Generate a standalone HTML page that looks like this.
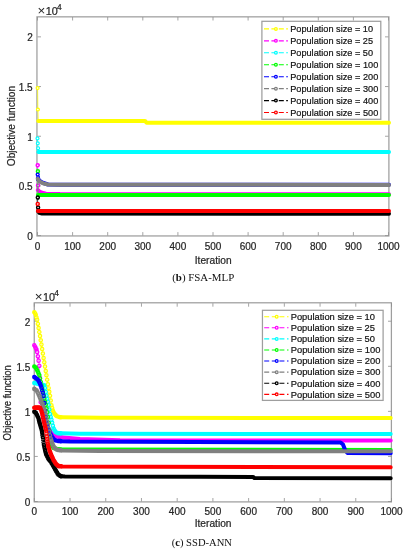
<!DOCTYPE html><html><head><meta charset="utf-8"><style>html,body{margin:0;padding:0;background:#fff;}svg{display:block;}</style></head><body>
<svg width="406" height="550" viewBox="0 0 406 550">
<rect width="406" height="550" fill="#fff"/>
<rect x="36.95" y="16.85" width="351.95" height="219.1" fill="none" stroke="#9e9e9e" stroke-width="1.25"/>
<path d="M37.5 235.6V232.1M37.5 17V20.5M72.6 235.6V232.1M72.6 17V20.5M107.7 235.6V232.1M107.7 17V20.5M142.8 235.6V232.1M142.8 17V20.5M177.9 235.6V232.1M177.9 17V20.5M213 235.6V232.1M213 17V20.5M248.1 235.6V232.1M248.1 17V20.5M283.2 235.6V232.1M283.2 17V20.5M318.3 235.6V232.1M318.3 17V20.5M353.4 235.6V232.1M353.4 17V20.5M388.5 235.6V232.1M388.5 17V20.5M37.5 235.6H41M388.5 235.6H385M37.5 185.92H41M388.5 185.92H385M37.5 136.24H41M388.5 136.24H385M37.5 86.55H41M388.5 86.55H385M37.5 36.87H41M388.5 36.87H385" stroke="#8e8e8e" stroke-width="0.8" fill="none"/>
<polyline points="37.6,88 37.9,109.5 38.3,119.5" fill="none" stroke="#ffff00" stroke-width="0.7"/>
<path d="M36.15 88a1.45 1.45 0 1 0 2.9 0a1.45 1.45 0 1 0 -2.9 0M36.45 109.5a1.45 1.45 0 1 0 2.9 0a1.45 1.45 0 1 0 -2.9 0" fill="#fff" stroke="#ffff00" stroke-width="1.2"/>
<polyline points="38.2,120.9 145,120.9 146.6,122.8 389,122.8" fill="none" stroke="#ffff00" stroke-width="4" stroke-linejoin="round" stroke-linecap="round"/>
<polyline points="37.6,165.2 38.2,185.5 38.3,189.5" fill="none" stroke="#ff00ff" stroke-width="0.7"/>
<path d="M36.2 165.2a1.5 1.5 0 1 0 3 0a1.5 1.5 0 1 0 -3 0M36.5 185.6a1.5 1.5 0 1 0 3 0a1.5 1.5 0 1 0 -3 0" fill="#fff" stroke="#ff00ff" stroke-width="1.5"/>
<polyline points="37.9,190 39.5,191.6 42,192.8 46,193.7 60,194.1 389,194.3" fill="none" stroke="#ff00ff" stroke-width="4" stroke-linejoin="round" stroke-linecap="round"/>
<polyline points="37.4,138.2 37.8,143.3 38.1,148.4 38.4,151.5" fill="none" stroke="#00ffff" stroke-width="0.7"/>
<path d="M36.05 138.4a1.45 1.45 0 1 0 2.9 0a1.45 1.45 0 1 0 -2.9 0M36.35 143.3a1.45 1.45 0 1 0 2.9 0a1.45 1.45 0 1 0 -2.9 0M36.65 148.2a1.45 1.45 0 1 0 2.9 0a1.45 1.45 0 1 0 -2.9 0" fill="#fff" stroke="#00ffff" stroke-width="1.2"/>
<polyline points="38.3,152 389,152" fill="none" stroke="#00ffff" stroke-width="4" stroke-linejoin="round" stroke-linecap="round"/>
<polyline points="37.8,171.3 37.9,190 38,194" fill="none" stroke="#00ff00" stroke-width="0.7"/>
<path d="M36.4 171.3a1.5 1.5 0 1 0 3 0a1.5 1.5 0 1 0 -3 0" fill="#fff" stroke="#00ff00" stroke-width="1.5"/>
<polyline points="38,194.9 389,194.9" fill="none" stroke="#00ff00" stroke-width="4" stroke-linejoin="round" stroke-linecap="round"/>
<polyline points="37.6,174.5 38,177.5 38.5,179.6" fill="none" stroke="#0000ff" stroke-width="0.7"/>
<path d="M36.25 174.6a1.45 1.45 0 1 0 2.9 0a1.45 1.45 0 1 0 -2.9 0M36.55 177.3a1.45 1.45 0 1 0 2.9 0a1.45 1.45 0 1 0 -2.9 0M36.85 179.3a1.45 1.45 0 1 0 2.9 0a1.45 1.45 0 1 0 -2.9 0" fill="#fff" stroke="#0000ff" stroke-width="1.4"/>
<polyline points="38.5,179.8 40.5,181.4 43.5,183 48,184.5 60,184.8 389,184.85" fill="none" stroke="#0000ff" stroke-width="4" stroke-linejoin="round" stroke-linecap="round"/>
<polyline points="37.8,178.8 39,180.9 41,182.3 44,183.6 48,184.5 60,184.8 389,184.9" fill="none" stroke="#808080" stroke-width="4" stroke-linejoin="round" stroke-linecap="round"/>
<polyline points="37.7,197.6 37.6,203.9 38,207.5 38.2,211" fill="none" stroke="#000000" stroke-width="0.7"/>
<path d="M36.3 197.6a1.5 1.5 0 1 0 3 0a1.5 1.5 0 1 0 -3 0M36.6 207.4a1.5 1.5 0 1 0 3 0a1.5 1.5 0 1 0 -3 0" fill="#fff" stroke="#000000" stroke-width="1.5"/>
<polyline points="38,211 39.5,212.9 42,213.6 389,213.7" fill="none" stroke="#000000" stroke-width="4" stroke-linejoin="round" stroke-linecap="round"/>
<path d="M36.2 203.9a1.5 1.5 0 1 0 3 0a1.5 1.5 0 1 0 -3 0" fill="#fff" stroke="#ff0000" stroke-width="1.5"/>
<polyline points="37.9,211 389,211" fill="none" stroke="#ff0000" stroke-width="4" stroke-linejoin="round" stroke-linecap="round"/>
<g font-family="Liberation Sans, Arial, sans-serif" font-size="10" fill="#262626" stroke="#262626" stroke-width="0.22">
<text x="37.5" y="250.3" text-anchor="middle">0</text>
<text x="72.6" y="250.3" text-anchor="middle">100</text>
<text x="107.7" y="250.3" text-anchor="middle">200</text>
<text x="142.8" y="250.3" text-anchor="middle">300</text>
<text x="177.9" y="250.3" text-anchor="middle">400</text>
<text x="213" y="250.3" text-anchor="middle">500</text>
<text x="248.1" y="250.3" text-anchor="middle">600</text>
<text x="283.2" y="250.3" text-anchor="middle">700</text>
<text x="318.3" y="250.3" text-anchor="middle">800</text>
<text x="353.4" y="250.3" text-anchor="middle">900</text>
<text x="388.5" y="250.3" text-anchor="middle">1000</text>
<text x="32.7" y="239.9" text-anchor="end">0</text>
<text x="32.7" y="190.22" text-anchor="end">0.5</text>
<text x="32.7" y="140.54" text-anchor="end">1</text>
<text x="32.7" y="90.85" text-anchor="end">1.5</text>
<text x="32.7" y="41.17" text-anchor="end">2</text>
<text x="213.2" y="263.6" text-anchor="middle" font-size="10.2">Iteration</text>
<text transform="translate(15 126.1) rotate(-90)" text-anchor="middle" font-size="10.1">Objective function</text>
<text x="37.6" y="15.2" font-size="13.4" stroke="none">&#215;</text>
<text x="45.8" y="14.8" font-size="10.8">10</text>
<text x="57.1" y="10.1" font-size="8.4">4</text>
</g>
<rect x="261.9" y="21.3" width="118.9" height="98" fill="#fff" stroke="#9e9e9e" stroke-width="1.25"/>
<path d="M264 28.9H287.9" stroke="#ffff00" stroke-width="1.1" stroke-dasharray="5 2.4" fill="none"/>
<circle cx="275.9" cy="28.9" r="1.35" fill="#fff" stroke="#ffff00" stroke-width="1.3"/>
<path d="M264 40.85H287.9" stroke="#ff00ff" stroke-width="1.1" stroke-dasharray="5 2.4" fill="none"/>
<circle cx="275.9" cy="40.85" r="1.35" fill="#fff" stroke="#ff00ff" stroke-width="1.3"/>
<path d="M264 52.8H287.9" stroke="#00ffff" stroke-width="1.1" stroke-dasharray="5 2.4" fill="none"/>
<circle cx="275.9" cy="52.8" r="1.35" fill="#fff" stroke="#00ffff" stroke-width="1.3"/>
<path d="M264 64.75H287.9" stroke="#00ff00" stroke-width="1.1" stroke-dasharray="5 2.4" fill="none"/>
<circle cx="275.9" cy="64.75" r="1.35" fill="#fff" stroke="#00ff00" stroke-width="1.3"/>
<path d="M264 76.7H287.9" stroke="#0000ff" stroke-width="1.1" stroke-dasharray="5 2.4" fill="none"/>
<circle cx="275.9" cy="76.7" r="1.35" fill="#fff" stroke="#0000ff" stroke-width="1.3"/>
<path d="M264 88.65H287.9" stroke="#808080" stroke-width="1.1" stroke-dasharray="5 2.4" fill="none"/>
<circle cx="275.9" cy="88.65" r="1.35" fill="#fff" stroke="#808080" stroke-width="1.3"/>
<path d="M264 100.6H287.9" stroke="#000000" stroke-width="1.1" stroke-dasharray="5 2.4" fill="none"/>
<circle cx="275.9" cy="100.6" r="1.35" fill="#fff" stroke="#000000" stroke-width="1.3"/>
<path d="M264 112.55H287.9" stroke="#ff0000" stroke-width="1.1" stroke-dasharray="5 2.4" fill="none"/>
<circle cx="275.9" cy="112.55" r="1.35" fill="#fff" stroke="#ff0000" stroke-width="1.3"/>
<g font-family="Liberation Sans, Arial, sans-serif" font-size="9.8" fill="#111" stroke="#111" stroke-width="0.2">
<text x="290.2" y="32.2" textLength="82.9" lengthAdjust="spacingAndGlyphs">Population size = 10</text>
<text x="290.2" y="44.15" textLength="82.9" lengthAdjust="spacingAndGlyphs">Population size = 25</text>
<text x="290.2" y="56.1" textLength="82.9" lengthAdjust="spacingAndGlyphs">Population size = 50</text>
<text x="290.2" y="68.05" textLength="88.1" lengthAdjust="spacingAndGlyphs">Population size = 100</text>
<text x="290.2" y="80" textLength="88.1" lengthAdjust="spacingAndGlyphs">Population size = 200</text>
<text x="290.2" y="91.95" textLength="88.1" lengthAdjust="spacingAndGlyphs">Population size = 300</text>
<text x="290.2" y="103.9" textLength="88.1" lengthAdjust="spacingAndGlyphs">Population size = 400</text>
<text x="290.2" y="115.85" textLength="88.1" lengthAdjust="spacingAndGlyphs">Population size = 500</text>
</g>
<text x="172.2" y="281.4" textLength="62" lengthAdjust="spacingAndGlyphs" font-family="Liberation Serif, serif" font-size="11" fill="#111">(<tspan font-weight="bold">b</tspan>) FSA-MLP</text>
<rect x="34.25" y="302.8" width="357.15" height="199.1" fill="none" stroke="#9e9e9e" stroke-width="1.25"/>
<path d="M34.3 501.5V498M34.3 303.2V306.7M70.02 501.5V498M70.02 303.2V306.7M105.74 501.5V498M105.74 303.2V306.7M141.46 501.5V498M141.46 303.2V306.7M177.18 501.5V498M177.18 303.2V306.7M212.9 501.5V498M212.9 303.2V306.7M248.62 501.5V498M248.62 303.2V306.7M284.34 501.5V498M284.34 303.2V306.7M320.06 501.5V498M320.06 303.2V306.7M355.78 501.5V498M355.78 303.2V306.7M391.5 501.5V498M391.5 303.2V306.7M34.3 501.5H37.8M391.5 501.5H388M34.3 456.43H37.8M391.5 456.43H388M34.3 411.36H37.8M391.5 411.36H388M34.3 366.3H37.8M391.5 366.3H388M34.3 321.23H37.8M391.5 321.23H388" stroke="#8e8e8e" stroke-width="0.8" fill="none"/>
<polyline points="34.3,312.2 35.01,313.21 35.73,314.81 36.44,317.33 37.16,319.85 37.87,323.84 38.59,327.92 39.3,332 40.02,336.09 40.73,340.18 41.44,344.62 42.16,349.05 42.87,353.49 43.59,357.92 44.3,362.26 45.02,366.6 45.73,370.93 46.44,375.28 47.16,379.75 47.87,384.21 48.59,388.09 49.3,391.85 50.02,395.78 50.73,400.54 51.45,405.18 52.16,408.04 52.87,410.47 53.59,412.2 54.3,413.54 55.02,414.34 55.73,415.14 56.45,415.94 57.16,416.23 57.88,416.47 58.59,416.72 59.3,416.96 60.02,417.2 60.73,417.21" fill="none" stroke="#ffff00" stroke-width="0.5"/>
<path d="M32.65 312.2a1.65 1.65 0 1 0 3.3 0a1.65 1.65 0 1 0 -3.3 0M33.36 313.21a1.65 1.65 0 1 0 3.3 0a1.65 1.65 0 1 0 -3.3 0M34.08 314.81a1.65 1.65 0 1 0 3.3 0a1.65 1.65 0 1 0 -3.3 0M34.79 317.33a1.65 1.65 0 1 0 3.3 0a1.65 1.65 0 1 0 -3.3 0M35.51 319.85a1.65 1.65 0 1 0 3.3 0a1.65 1.65 0 1 0 -3.3 0M36.22 323.84a1.65 1.65 0 1 0 3.3 0a1.65 1.65 0 1 0 -3.3 0M36.94 327.92a1.65 1.65 0 1 0 3.3 0a1.65 1.65 0 1 0 -3.3 0M37.65 332a1.65 1.65 0 1 0 3.3 0a1.65 1.65 0 1 0 -3.3 0M38.37 336.09a1.65 1.65 0 1 0 3.3 0a1.65 1.65 0 1 0 -3.3 0M39.08 340.18a1.65 1.65 0 1 0 3.3 0a1.65 1.65 0 1 0 -3.3 0M39.79 344.62a1.65 1.65 0 1 0 3.3 0a1.65 1.65 0 1 0 -3.3 0M40.51 349.05a1.65 1.65 0 1 0 3.3 0a1.65 1.65 0 1 0 -3.3 0M41.22 353.49a1.65 1.65 0 1 0 3.3 0a1.65 1.65 0 1 0 -3.3 0M41.94 357.92a1.65 1.65 0 1 0 3.3 0a1.65 1.65 0 1 0 -3.3 0M42.65 362.26a1.65 1.65 0 1 0 3.3 0a1.65 1.65 0 1 0 -3.3 0M43.37 366.6a1.65 1.65 0 1 0 3.3 0a1.65 1.65 0 1 0 -3.3 0M44.08 370.93a1.65 1.65 0 1 0 3.3 0a1.65 1.65 0 1 0 -3.3 0M44.79 375.28a1.65 1.65 0 1 0 3.3 0a1.65 1.65 0 1 0 -3.3 0M45.51 379.75a1.65 1.65 0 1 0 3.3 0a1.65 1.65 0 1 0 -3.3 0M46.22 384.21a1.65 1.65 0 1 0 3.3 0a1.65 1.65 0 1 0 -3.3 0M46.94 388.09a1.65 1.65 0 1 0 3.3 0a1.65 1.65 0 1 0 -3.3 0M47.65 391.85a1.65 1.65 0 1 0 3.3 0a1.65 1.65 0 1 0 -3.3 0M48.37 395.78a1.65 1.65 0 1 0 3.3 0a1.65 1.65 0 1 0 -3.3 0M49.08 400.54a1.65 1.65 0 1 0 3.3 0a1.65 1.65 0 1 0 -3.3 0M49.8 405.18a1.65 1.65 0 1 0 3.3 0a1.65 1.65 0 1 0 -3.3 0M50.51 408.04a1.65 1.65 0 1 0 3.3 0a1.65 1.65 0 1 0 -3.3 0M51.22 410.47a1.65 1.65 0 1 0 3.3 0a1.65 1.65 0 1 0 -3.3 0M51.94 412.2a1.65 1.65 0 1 0 3.3 0a1.65 1.65 0 1 0 -3.3 0M52.65 413.54a1.65 1.65 0 1 0 3.3 0a1.65 1.65 0 1 0 -3.3 0M53.37 414.34a1.65 1.65 0 1 0 3.3 0a1.65 1.65 0 1 0 -3.3 0M54.08 415.14a1.65 1.65 0 1 0 3.3 0a1.65 1.65 0 1 0 -3.3 0M54.8 415.94a1.65 1.65 0 1 0 3.3 0a1.65 1.65 0 1 0 -3.3 0M55.51 416.23a1.65 1.65 0 1 0 3.3 0a1.65 1.65 0 1 0 -3.3 0M56.23 416.47a1.65 1.65 0 1 0 3.3 0a1.65 1.65 0 1 0 -3.3 0M56.94 416.72a1.65 1.65 0 1 0 3.3 0a1.65 1.65 0 1 0 -3.3 0M57.65 416.96a1.65 1.65 0 1 0 3.3 0a1.65 1.65 0 1 0 -3.3 0M58.37 417.2a1.65 1.65 0 1 0 3.3 0a1.65 1.65 0 1 0 -3.3 0M59.08 417.21a1.65 1.65 0 1 0 3.3 0a1.65 1.65 0 1 0 -3.3 0" fill="none" stroke="#ffff00" stroke-width="1.25"/>
<polyline points="61.09,417.22 100,417.8 390.7,418" fill="none" stroke="#ffff00" stroke-width="4" stroke-linejoin="round" stroke-linecap="round"/>
<polyline points="34.3,345.26 35.01,346.53 35.73,347.92 36.44,349.31 37.16,352.1 37.87,356.31 38.59,360.63 39.3,365.82 40.02,378.08 40.73,402.18 41.44,408.41 42.16,412.19 42.87,414.99 43.59,416.9 44.3,418.8 45.02,420.71 45.73,422.55 46.44,424.27 47.16,425.98 47.87,427.7 48.59,428.94 49.3,430.08 50.02,431.23 50.73,432.24 51.45,432.98 52.16,433.73 52.87,434.47 53.59,434.84 54.3,435.12 55.02,435.41 55.73,435.69 56.45,435.98 57.16,436.24 57.88,436.44 58.59,436.64 59.3,436.83 60.02,437.03 60.73,437.23" fill="none" stroke="#ff00ff" stroke-width="0.5"/>
<path d="M32.65 345.26a1.65 1.65 0 1 0 3.3 0a1.65 1.65 0 1 0 -3.3 0M33.36 346.53a1.65 1.65 0 1 0 3.3 0a1.65 1.65 0 1 0 -3.3 0M34.08 347.92a1.65 1.65 0 1 0 3.3 0a1.65 1.65 0 1 0 -3.3 0M34.79 349.31a1.65 1.65 0 1 0 3.3 0a1.65 1.65 0 1 0 -3.3 0M35.51 352.1a1.65 1.65 0 1 0 3.3 0a1.65 1.65 0 1 0 -3.3 0M36.22 356.31a1.65 1.65 0 1 0 3.3 0a1.65 1.65 0 1 0 -3.3 0M36.94 360.63a1.65 1.65 0 1 0 3.3 0a1.65 1.65 0 1 0 -3.3 0M37.65 365.82a1.65 1.65 0 1 0 3.3 0a1.65 1.65 0 1 0 -3.3 0M38.37 378.08a1.65 1.65 0 1 0 3.3 0a1.65 1.65 0 1 0 -3.3 0M39.08 402.18a1.65 1.65 0 1 0 3.3 0a1.65 1.65 0 1 0 -3.3 0M39.79 408.41a1.65 1.65 0 1 0 3.3 0a1.65 1.65 0 1 0 -3.3 0M40.51 412.19a1.65 1.65 0 1 0 3.3 0a1.65 1.65 0 1 0 -3.3 0M41.22 414.99a1.65 1.65 0 1 0 3.3 0a1.65 1.65 0 1 0 -3.3 0M41.94 416.9a1.65 1.65 0 1 0 3.3 0a1.65 1.65 0 1 0 -3.3 0M42.65 418.8a1.65 1.65 0 1 0 3.3 0a1.65 1.65 0 1 0 -3.3 0M43.37 420.71a1.65 1.65 0 1 0 3.3 0a1.65 1.65 0 1 0 -3.3 0M44.08 422.55a1.65 1.65 0 1 0 3.3 0a1.65 1.65 0 1 0 -3.3 0M44.79 424.27a1.65 1.65 0 1 0 3.3 0a1.65 1.65 0 1 0 -3.3 0M45.51 425.98a1.65 1.65 0 1 0 3.3 0a1.65 1.65 0 1 0 -3.3 0M46.22 427.7a1.65 1.65 0 1 0 3.3 0a1.65 1.65 0 1 0 -3.3 0M46.94 428.94a1.65 1.65 0 1 0 3.3 0a1.65 1.65 0 1 0 -3.3 0M47.65 430.08a1.65 1.65 0 1 0 3.3 0a1.65 1.65 0 1 0 -3.3 0M48.37 431.23a1.65 1.65 0 1 0 3.3 0a1.65 1.65 0 1 0 -3.3 0M49.08 432.24a1.65 1.65 0 1 0 3.3 0a1.65 1.65 0 1 0 -3.3 0M49.8 432.98a1.65 1.65 0 1 0 3.3 0a1.65 1.65 0 1 0 -3.3 0M50.51 433.73a1.65 1.65 0 1 0 3.3 0a1.65 1.65 0 1 0 -3.3 0M51.22 434.47a1.65 1.65 0 1 0 3.3 0a1.65 1.65 0 1 0 -3.3 0M51.94 434.84a1.65 1.65 0 1 0 3.3 0a1.65 1.65 0 1 0 -3.3 0M52.65 435.12a1.65 1.65 0 1 0 3.3 0a1.65 1.65 0 1 0 -3.3 0M53.37 435.41a1.65 1.65 0 1 0 3.3 0a1.65 1.65 0 1 0 -3.3 0M54.08 435.69a1.65 1.65 0 1 0 3.3 0a1.65 1.65 0 1 0 -3.3 0M54.8 435.98a1.65 1.65 0 1 0 3.3 0a1.65 1.65 0 1 0 -3.3 0M55.51 436.24a1.65 1.65 0 1 0 3.3 0a1.65 1.65 0 1 0 -3.3 0M56.23 436.44a1.65 1.65 0 1 0 3.3 0a1.65 1.65 0 1 0 -3.3 0M56.94 436.64a1.65 1.65 0 1 0 3.3 0a1.65 1.65 0 1 0 -3.3 0M57.65 436.83a1.65 1.65 0 1 0 3.3 0a1.65 1.65 0 1 0 -3.3 0M58.37 437.03a1.65 1.65 0 1 0 3.3 0a1.65 1.65 0 1 0 -3.3 0M59.08 437.23a1.65 1.65 0 1 0 3.3 0a1.65 1.65 0 1 0 -3.3 0" fill="none" stroke="#ff00ff" stroke-width="1.25"/>
<polyline points="61.09,437.31 80,439 120,440.2 200,440.5 390.7,440.6" fill="none" stroke="#ff00ff" stroke-width="4" stroke-linejoin="round" stroke-linecap="round"/>
<polyline points="34.3,382.9 35.01,383.02 35.73,383.19 36.44,383.37 37.16,383.53 37.87,383.65 38.59,383.78 39.3,383.9 40.02,384.03 40.73,384.15 41.44,384.34 42.16,384.56 42.87,384.79 43.59,385.01 44.3,385.24 45.02,388.08 45.73,391.93 46.44,395.63 47.16,398.74 47.87,401.84 48.59,404.95 49.3,409.52 50.02,414.07 50.73,416.92 51.45,419.78 52.16,422.67 52.87,425.67 53.59,428.46 54.3,429.79 55.02,431.11 55.73,432.12 56.45,432.49 57.16,432.86 57.88,433.24 58.59,433.31 59.3,433.33 60.02,433.35 60.73,433.36" fill="none" stroke="#00ffff" stroke-width="0.5"/>
<path d="M32.65 382.9a1.65 1.65 0 1 0 3.3 0a1.65 1.65 0 1 0 -3.3 0M33.36 383.02a1.65 1.65 0 1 0 3.3 0a1.65 1.65 0 1 0 -3.3 0M34.08 383.19a1.65 1.65 0 1 0 3.3 0a1.65 1.65 0 1 0 -3.3 0M34.79 383.37a1.65 1.65 0 1 0 3.3 0a1.65 1.65 0 1 0 -3.3 0M35.51 383.53a1.65 1.65 0 1 0 3.3 0a1.65 1.65 0 1 0 -3.3 0M36.22 383.65a1.65 1.65 0 1 0 3.3 0a1.65 1.65 0 1 0 -3.3 0M36.94 383.78a1.65 1.65 0 1 0 3.3 0a1.65 1.65 0 1 0 -3.3 0M37.65 383.9a1.65 1.65 0 1 0 3.3 0a1.65 1.65 0 1 0 -3.3 0M38.37 384.03a1.65 1.65 0 1 0 3.3 0a1.65 1.65 0 1 0 -3.3 0M39.08 384.15a1.65 1.65 0 1 0 3.3 0a1.65 1.65 0 1 0 -3.3 0M39.79 384.34a1.65 1.65 0 1 0 3.3 0a1.65 1.65 0 1 0 -3.3 0M40.51 384.56a1.65 1.65 0 1 0 3.3 0a1.65 1.65 0 1 0 -3.3 0M41.22 384.79a1.65 1.65 0 1 0 3.3 0a1.65 1.65 0 1 0 -3.3 0M41.94 385.01a1.65 1.65 0 1 0 3.3 0a1.65 1.65 0 1 0 -3.3 0M42.65 385.24a1.65 1.65 0 1 0 3.3 0a1.65 1.65 0 1 0 -3.3 0M43.37 388.08a1.65 1.65 0 1 0 3.3 0a1.65 1.65 0 1 0 -3.3 0M44.08 391.93a1.65 1.65 0 1 0 3.3 0a1.65 1.65 0 1 0 -3.3 0M44.79 395.63a1.65 1.65 0 1 0 3.3 0a1.65 1.65 0 1 0 -3.3 0M45.51 398.74a1.65 1.65 0 1 0 3.3 0a1.65 1.65 0 1 0 -3.3 0M46.22 401.84a1.65 1.65 0 1 0 3.3 0a1.65 1.65 0 1 0 -3.3 0M46.94 404.95a1.65 1.65 0 1 0 3.3 0a1.65 1.65 0 1 0 -3.3 0M47.65 409.52a1.65 1.65 0 1 0 3.3 0a1.65 1.65 0 1 0 -3.3 0M48.37 414.07a1.65 1.65 0 1 0 3.3 0a1.65 1.65 0 1 0 -3.3 0M49.08 416.92a1.65 1.65 0 1 0 3.3 0a1.65 1.65 0 1 0 -3.3 0M49.8 419.78a1.65 1.65 0 1 0 3.3 0a1.65 1.65 0 1 0 -3.3 0M50.51 422.67a1.65 1.65 0 1 0 3.3 0a1.65 1.65 0 1 0 -3.3 0M51.22 425.67a1.65 1.65 0 1 0 3.3 0a1.65 1.65 0 1 0 -3.3 0M51.94 428.46a1.65 1.65 0 1 0 3.3 0a1.65 1.65 0 1 0 -3.3 0M52.65 429.79a1.65 1.65 0 1 0 3.3 0a1.65 1.65 0 1 0 -3.3 0M53.37 431.11a1.65 1.65 0 1 0 3.3 0a1.65 1.65 0 1 0 -3.3 0M54.08 432.12a1.65 1.65 0 1 0 3.3 0a1.65 1.65 0 1 0 -3.3 0M54.8 432.49a1.65 1.65 0 1 0 3.3 0a1.65 1.65 0 1 0 -3.3 0M55.51 432.86a1.65 1.65 0 1 0 3.3 0a1.65 1.65 0 1 0 -3.3 0M56.23 433.24a1.65 1.65 0 1 0 3.3 0a1.65 1.65 0 1 0 -3.3 0M56.94 433.31a1.65 1.65 0 1 0 3.3 0a1.65 1.65 0 1 0 -3.3 0M57.65 433.33a1.65 1.65 0 1 0 3.3 0a1.65 1.65 0 1 0 -3.3 0M58.37 433.35a1.65 1.65 0 1 0 3.3 0a1.65 1.65 0 1 0 -3.3 0M59.08 433.36a1.65 1.65 0 1 0 3.3 0a1.65 1.65 0 1 0 -3.3 0" fill="none" stroke="#00ffff" stroke-width="1.25"/>
<polyline points="61.09,433.37 80,433.8 390.7,434.1" fill="none" stroke="#00ffff" stroke-width="4" stroke-linejoin="round" stroke-linecap="round"/>
<polyline points="34.3,366.5 35.01,366.95 35.73,367.56 36.44,368.77 37.16,370.33 37.87,371.88 38.59,373.44 39.3,375 40.02,378.41 40.73,381.81 41.44,385.21 42.16,388.61 42.87,392.01 43.59,395.38 44.3,398.49 45.02,401.59 45.73,404.7 46.44,408.41 47.16,412.2 47.87,416.99 48.59,422.88 49.3,430.02 50.02,436.37 50.73,440.66 51.45,444.23 52.16,445.59 52.87,446.77 53.59,447.83 54.3,448.08 55.02,448.32 55.73,448.57 56.45,448.81 57.16,449.03 57.88,449.15 58.59,449.26 59.3,449.38 60.02,449.5 60.73,449.5" fill="none" stroke="#00ff00" stroke-width="0.5"/>
<path d="M32.65 366.5a1.65 1.65 0 1 0 3.3 0a1.65 1.65 0 1 0 -3.3 0M33.36 366.95a1.65 1.65 0 1 0 3.3 0a1.65 1.65 0 1 0 -3.3 0M34.08 367.56a1.65 1.65 0 1 0 3.3 0a1.65 1.65 0 1 0 -3.3 0M34.79 368.77a1.65 1.65 0 1 0 3.3 0a1.65 1.65 0 1 0 -3.3 0M35.51 370.33a1.65 1.65 0 1 0 3.3 0a1.65 1.65 0 1 0 -3.3 0M36.22 371.88a1.65 1.65 0 1 0 3.3 0a1.65 1.65 0 1 0 -3.3 0M36.94 373.44a1.65 1.65 0 1 0 3.3 0a1.65 1.65 0 1 0 -3.3 0M37.65 375a1.65 1.65 0 1 0 3.3 0a1.65 1.65 0 1 0 -3.3 0M38.37 378.41a1.65 1.65 0 1 0 3.3 0a1.65 1.65 0 1 0 -3.3 0M39.08 381.81a1.65 1.65 0 1 0 3.3 0a1.65 1.65 0 1 0 -3.3 0M39.79 385.21a1.65 1.65 0 1 0 3.3 0a1.65 1.65 0 1 0 -3.3 0M40.51 388.61a1.65 1.65 0 1 0 3.3 0a1.65 1.65 0 1 0 -3.3 0M41.22 392.01a1.65 1.65 0 1 0 3.3 0a1.65 1.65 0 1 0 -3.3 0M41.94 395.38a1.65 1.65 0 1 0 3.3 0a1.65 1.65 0 1 0 -3.3 0M42.65 398.49a1.65 1.65 0 1 0 3.3 0a1.65 1.65 0 1 0 -3.3 0M43.37 401.59a1.65 1.65 0 1 0 3.3 0a1.65 1.65 0 1 0 -3.3 0M44.08 404.7a1.65 1.65 0 1 0 3.3 0a1.65 1.65 0 1 0 -3.3 0M44.79 408.41a1.65 1.65 0 1 0 3.3 0a1.65 1.65 0 1 0 -3.3 0M45.51 412.2a1.65 1.65 0 1 0 3.3 0a1.65 1.65 0 1 0 -3.3 0M46.22 416.99a1.65 1.65 0 1 0 3.3 0a1.65 1.65 0 1 0 -3.3 0M46.94 422.88a1.65 1.65 0 1 0 3.3 0a1.65 1.65 0 1 0 -3.3 0M47.65 430.02a1.65 1.65 0 1 0 3.3 0a1.65 1.65 0 1 0 -3.3 0M48.37 436.37a1.65 1.65 0 1 0 3.3 0a1.65 1.65 0 1 0 -3.3 0M49.08 440.66a1.65 1.65 0 1 0 3.3 0a1.65 1.65 0 1 0 -3.3 0M49.8 444.23a1.65 1.65 0 1 0 3.3 0a1.65 1.65 0 1 0 -3.3 0M50.51 445.59a1.65 1.65 0 1 0 3.3 0a1.65 1.65 0 1 0 -3.3 0M51.22 446.77a1.65 1.65 0 1 0 3.3 0a1.65 1.65 0 1 0 -3.3 0M51.94 447.83a1.65 1.65 0 1 0 3.3 0a1.65 1.65 0 1 0 -3.3 0M52.65 448.08a1.65 1.65 0 1 0 3.3 0a1.65 1.65 0 1 0 -3.3 0M53.37 448.32a1.65 1.65 0 1 0 3.3 0a1.65 1.65 0 1 0 -3.3 0M54.08 448.57a1.65 1.65 0 1 0 3.3 0a1.65 1.65 0 1 0 -3.3 0M54.8 448.81a1.65 1.65 0 1 0 3.3 0a1.65 1.65 0 1 0 -3.3 0M55.51 449.03a1.65 1.65 0 1 0 3.3 0a1.65 1.65 0 1 0 -3.3 0M56.23 449.15a1.65 1.65 0 1 0 3.3 0a1.65 1.65 0 1 0 -3.3 0M56.94 449.26a1.65 1.65 0 1 0 3.3 0a1.65 1.65 0 1 0 -3.3 0M57.65 449.38a1.65 1.65 0 1 0 3.3 0a1.65 1.65 0 1 0 -3.3 0M58.37 449.5a1.65 1.65 0 1 0 3.3 0a1.65 1.65 0 1 0 -3.3 0M59.08 449.5a1.65 1.65 0 1 0 3.3 0a1.65 1.65 0 1 0 -3.3 0" fill="none" stroke="#00ff00" stroke-width="1.25"/>
<polyline points="61.09,449.5 390.7,450" fill="none" stroke="#00ff00" stroke-width="4" stroke-linejoin="round" stroke-linecap="round"/>
<polyline points="34.3,377.1 35.01,377.46 35.73,377.97 36.44,378.53 37.16,379.21 37.87,379.89 38.59,380.86 39.3,382.25 40.02,383.64 40.73,385.63 41.44,387.83 42.16,390.19 42.87,392.77 43.59,395.94 44.3,403.02 45.02,410.81 45.73,416.87 46.44,421.63 47.16,424.64 47.87,427.49 48.59,429.47 49.3,431.26 50.02,433.03 50.73,434.46 51.45,435.89 52.16,437.19 52.87,438.05 53.59,438.91 54.3,439.76 55.02,440.15 55.73,440.35 56.45,440.56 57.16,440.76 57.88,440.96 58.59,441.03 59.3,441.07 60.02,441.1 60.73,441.14" fill="none" stroke="#0000ff" stroke-width="0.5"/>
<path d="M32.65 377.1a1.65 1.65 0 1 0 3.3 0a1.65 1.65 0 1 0 -3.3 0M33.36 377.46a1.65 1.65 0 1 0 3.3 0a1.65 1.65 0 1 0 -3.3 0M34.08 377.97a1.65 1.65 0 1 0 3.3 0a1.65 1.65 0 1 0 -3.3 0M34.79 378.53a1.65 1.65 0 1 0 3.3 0a1.65 1.65 0 1 0 -3.3 0M35.51 379.21a1.65 1.65 0 1 0 3.3 0a1.65 1.65 0 1 0 -3.3 0M36.22 379.89a1.65 1.65 0 1 0 3.3 0a1.65 1.65 0 1 0 -3.3 0M36.94 380.86a1.65 1.65 0 1 0 3.3 0a1.65 1.65 0 1 0 -3.3 0M37.65 382.25a1.65 1.65 0 1 0 3.3 0a1.65 1.65 0 1 0 -3.3 0M38.37 383.64a1.65 1.65 0 1 0 3.3 0a1.65 1.65 0 1 0 -3.3 0M39.08 385.63a1.65 1.65 0 1 0 3.3 0a1.65 1.65 0 1 0 -3.3 0M39.79 387.83a1.65 1.65 0 1 0 3.3 0a1.65 1.65 0 1 0 -3.3 0M40.51 390.19a1.65 1.65 0 1 0 3.3 0a1.65 1.65 0 1 0 -3.3 0M41.22 392.77a1.65 1.65 0 1 0 3.3 0a1.65 1.65 0 1 0 -3.3 0M41.94 395.94a1.65 1.65 0 1 0 3.3 0a1.65 1.65 0 1 0 -3.3 0M42.65 403.02a1.65 1.65 0 1 0 3.3 0a1.65 1.65 0 1 0 -3.3 0M43.37 410.81a1.65 1.65 0 1 0 3.3 0a1.65 1.65 0 1 0 -3.3 0M44.08 416.87a1.65 1.65 0 1 0 3.3 0a1.65 1.65 0 1 0 -3.3 0M44.79 421.63a1.65 1.65 0 1 0 3.3 0a1.65 1.65 0 1 0 -3.3 0M45.51 424.64a1.65 1.65 0 1 0 3.3 0a1.65 1.65 0 1 0 -3.3 0M46.22 427.49a1.65 1.65 0 1 0 3.3 0a1.65 1.65 0 1 0 -3.3 0M46.94 429.47a1.65 1.65 0 1 0 3.3 0a1.65 1.65 0 1 0 -3.3 0M47.65 431.26a1.65 1.65 0 1 0 3.3 0a1.65 1.65 0 1 0 -3.3 0M48.37 433.03a1.65 1.65 0 1 0 3.3 0a1.65 1.65 0 1 0 -3.3 0M49.08 434.46a1.65 1.65 0 1 0 3.3 0a1.65 1.65 0 1 0 -3.3 0M49.8 435.89a1.65 1.65 0 1 0 3.3 0a1.65 1.65 0 1 0 -3.3 0M50.51 437.19a1.65 1.65 0 1 0 3.3 0a1.65 1.65 0 1 0 -3.3 0M51.22 438.05a1.65 1.65 0 1 0 3.3 0a1.65 1.65 0 1 0 -3.3 0M51.94 438.91a1.65 1.65 0 1 0 3.3 0a1.65 1.65 0 1 0 -3.3 0M52.65 439.76a1.65 1.65 0 1 0 3.3 0a1.65 1.65 0 1 0 -3.3 0M53.37 440.15a1.65 1.65 0 1 0 3.3 0a1.65 1.65 0 1 0 -3.3 0M54.08 440.35a1.65 1.65 0 1 0 3.3 0a1.65 1.65 0 1 0 -3.3 0M54.8 440.56a1.65 1.65 0 1 0 3.3 0a1.65 1.65 0 1 0 -3.3 0M55.51 440.76a1.65 1.65 0 1 0 3.3 0a1.65 1.65 0 1 0 -3.3 0M56.23 440.96a1.65 1.65 0 1 0 3.3 0a1.65 1.65 0 1 0 -3.3 0M56.94 441.03a1.65 1.65 0 1 0 3.3 0a1.65 1.65 0 1 0 -3.3 0M57.65 441.07a1.65 1.65 0 1 0 3.3 0a1.65 1.65 0 1 0 -3.3 0M58.37 441.1a1.65 1.65 0 1 0 3.3 0a1.65 1.65 0 1 0 -3.3 0M59.08 441.14a1.65 1.65 0 1 0 3.3 0a1.65 1.65 0 1 0 -3.3 0" fill="none" stroke="#0000ff" stroke-width="1.25"/>
<polyline points="61.09,441.15 70,441.6 340.6,442.5 343,444.5 345.3,450.5 347.5,453 390.7,453.2" fill="none" stroke="#0000ff" stroke-width="4" stroke-linejoin="round" stroke-linecap="round"/>
<polyline points="34.3,388.9 35.01,389.32 35.73,389.74 36.44,390.17 37.16,391.52 37.87,392.94 38.59,394.45 39.3,396.17 40.02,397.89 40.73,399.67 41.44,401.71 42.16,403.74 42.87,405.85 43.59,408.06 44.3,410.28 45.02,412.5 45.73,415.08 46.44,418.45 47.16,421.81 47.87,425.17 48.59,428.53 49.3,431.89 50.02,435.26 50.73,438.41 51.45,440.67 52.16,442.93 52.87,444.71 53.59,446.07 54.3,447.43 55.02,448.21 55.73,448.79 56.45,449.36 57.16,449.82 57.88,449.92 58.59,450.02 59.3,450.12 60.02,450.22 60.73,450.32" fill="none" stroke="#808080" stroke-width="0.5"/>
<path d="M32.65 388.9a1.65 1.65 0 1 0 3.3 0a1.65 1.65 0 1 0 -3.3 0M33.36 389.32a1.65 1.65 0 1 0 3.3 0a1.65 1.65 0 1 0 -3.3 0M34.08 389.74a1.65 1.65 0 1 0 3.3 0a1.65 1.65 0 1 0 -3.3 0M34.79 390.17a1.65 1.65 0 1 0 3.3 0a1.65 1.65 0 1 0 -3.3 0M35.51 391.52a1.65 1.65 0 1 0 3.3 0a1.65 1.65 0 1 0 -3.3 0M36.22 392.94a1.65 1.65 0 1 0 3.3 0a1.65 1.65 0 1 0 -3.3 0M36.94 394.45a1.65 1.65 0 1 0 3.3 0a1.65 1.65 0 1 0 -3.3 0M37.65 396.17a1.65 1.65 0 1 0 3.3 0a1.65 1.65 0 1 0 -3.3 0M38.37 397.89a1.65 1.65 0 1 0 3.3 0a1.65 1.65 0 1 0 -3.3 0M39.08 399.67a1.65 1.65 0 1 0 3.3 0a1.65 1.65 0 1 0 -3.3 0M39.79 401.71a1.65 1.65 0 1 0 3.3 0a1.65 1.65 0 1 0 -3.3 0M40.51 403.74a1.65 1.65 0 1 0 3.3 0a1.65 1.65 0 1 0 -3.3 0M41.22 405.85a1.65 1.65 0 1 0 3.3 0a1.65 1.65 0 1 0 -3.3 0M41.94 408.06a1.65 1.65 0 1 0 3.3 0a1.65 1.65 0 1 0 -3.3 0M42.65 410.28a1.65 1.65 0 1 0 3.3 0a1.65 1.65 0 1 0 -3.3 0M43.37 412.5a1.65 1.65 0 1 0 3.3 0a1.65 1.65 0 1 0 -3.3 0M44.08 415.08a1.65 1.65 0 1 0 3.3 0a1.65 1.65 0 1 0 -3.3 0M44.79 418.45a1.65 1.65 0 1 0 3.3 0a1.65 1.65 0 1 0 -3.3 0M45.51 421.81a1.65 1.65 0 1 0 3.3 0a1.65 1.65 0 1 0 -3.3 0M46.22 425.17a1.65 1.65 0 1 0 3.3 0a1.65 1.65 0 1 0 -3.3 0M46.94 428.53a1.65 1.65 0 1 0 3.3 0a1.65 1.65 0 1 0 -3.3 0M47.65 431.89a1.65 1.65 0 1 0 3.3 0a1.65 1.65 0 1 0 -3.3 0M48.37 435.26a1.65 1.65 0 1 0 3.3 0a1.65 1.65 0 1 0 -3.3 0M49.08 438.41a1.65 1.65 0 1 0 3.3 0a1.65 1.65 0 1 0 -3.3 0M49.8 440.67a1.65 1.65 0 1 0 3.3 0a1.65 1.65 0 1 0 -3.3 0M50.51 442.93a1.65 1.65 0 1 0 3.3 0a1.65 1.65 0 1 0 -3.3 0M51.22 444.71a1.65 1.65 0 1 0 3.3 0a1.65 1.65 0 1 0 -3.3 0M51.94 446.07a1.65 1.65 0 1 0 3.3 0a1.65 1.65 0 1 0 -3.3 0M52.65 447.43a1.65 1.65 0 1 0 3.3 0a1.65 1.65 0 1 0 -3.3 0M53.37 448.21a1.65 1.65 0 1 0 3.3 0a1.65 1.65 0 1 0 -3.3 0M54.08 448.79a1.65 1.65 0 1 0 3.3 0a1.65 1.65 0 1 0 -3.3 0M54.8 449.36a1.65 1.65 0 1 0 3.3 0a1.65 1.65 0 1 0 -3.3 0M55.51 449.82a1.65 1.65 0 1 0 3.3 0a1.65 1.65 0 1 0 -3.3 0M56.23 449.92a1.65 1.65 0 1 0 3.3 0a1.65 1.65 0 1 0 -3.3 0M56.94 450.02a1.65 1.65 0 1 0 3.3 0a1.65 1.65 0 1 0 -3.3 0M57.65 450.12a1.65 1.65 0 1 0 3.3 0a1.65 1.65 0 1 0 -3.3 0M58.37 450.22a1.65 1.65 0 1 0 3.3 0a1.65 1.65 0 1 0 -3.3 0M59.08 450.32a1.65 1.65 0 1 0 3.3 0a1.65 1.65 0 1 0 -3.3 0" fill="none" stroke="#808080" stroke-width="1.25"/>
<polyline points="61.09,450.37 62,450.5 100,451 390.7,451.3" fill="none" stroke="#808080" stroke-width="4" stroke-linejoin="round" stroke-linecap="round"/>
<polyline points="34.3,411.75 34.66,411.97 35.01,412.2 35.37,412.42 35.73,412.88 36.09,413.48 36.44,414.07 36.8,414.67 37.16,415.37 37.51,416.2 37.87,417.03 38.23,417.87 38.59,418.84 38.94,420.23 39.3,421.61 39.66,422.9 40.02,424.14 40.37,425.38 40.73,426.62 41.09,427.87 41.44,429.11 41.8,430.62 42.16,432.82 42.52,435.02 42.87,437.22 43.23,439.67 43.59,442.27 43.94,444.87 44.3,446.85 44.66,448.35 45.02,449.86 45.37,451.36 45.73,452.86 46.09,454.18 46.44,454.89 46.8,455.6 47.16,456.32 47.52,457.03 47.87,457.75 48.23,458.46 48.59,459.11 48.95,459.53 49.3,459.96 49.66,460.39 50.02,460.82 50.37,461.25 50.73,461.68 51.09,462.16 51.45,462.79 51.8,463.43 52.16,464.06 52.52,464.7 52.87,465.33 53.23,465.97 53.59,466.6 53.95,467.24 54.3,467.87 54.66,468.51 55.02,469.14 55.37,469.78 55.73,470.4 56.09,471.01 56.45,471.63 56.8,472.24 57.16,472.86 57.52,473.47 57.88,474.09 58.23,474.45 58.59,474.69 58.95,474.93 59.3,475.17 59.66,475.41 60.02,475.65 60.38,475.88 60.73,476.12 61.09,476.3" fill="none" stroke="#000000" stroke-width="0.5"/>
<path d="M32.65 411.75a1.65 1.65 0 1 0 3.3 0a1.65 1.65 0 1 0 -3.3 0M33.01 411.97a1.65 1.65 0 1 0 3.3 0a1.65 1.65 0 1 0 -3.3 0M33.36 412.2a1.65 1.65 0 1 0 3.3 0a1.65 1.65 0 1 0 -3.3 0M33.72 412.42a1.65 1.65 0 1 0 3.3 0a1.65 1.65 0 1 0 -3.3 0M34.08 412.88a1.65 1.65 0 1 0 3.3 0a1.65 1.65 0 1 0 -3.3 0M34.44 413.48a1.65 1.65 0 1 0 3.3 0a1.65 1.65 0 1 0 -3.3 0M34.79 414.07a1.65 1.65 0 1 0 3.3 0a1.65 1.65 0 1 0 -3.3 0M35.15 414.67a1.65 1.65 0 1 0 3.3 0a1.65 1.65 0 1 0 -3.3 0M35.51 415.37a1.65 1.65 0 1 0 3.3 0a1.65 1.65 0 1 0 -3.3 0M35.86 416.2a1.65 1.65 0 1 0 3.3 0a1.65 1.65 0 1 0 -3.3 0M36.22 417.03a1.65 1.65 0 1 0 3.3 0a1.65 1.65 0 1 0 -3.3 0M36.58 417.87a1.65 1.65 0 1 0 3.3 0a1.65 1.65 0 1 0 -3.3 0M36.94 418.84a1.65 1.65 0 1 0 3.3 0a1.65 1.65 0 1 0 -3.3 0M37.29 420.23a1.65 1.65 0 1 0 3.3 0a1.65 1.65 0 1 0 -3.3 0M37.65 421.61a1.65 1.65 0 1 0 3.3 0a1.65 1.65 0 1 0 -3.3 0M38.01 422.9a1.65 1.65 0 1 0 3.3 0a1.65 1.65 0 1 0 -3.3 0M38.37 424.14a1.65 1.65 0 1 0 3.3 0a1.65 1.65 0 1 0 -3.3 0M38.72 425.38a1.65 1.65 0 1 0 3.3 0a1.65 1.65 0 1 0 -3.3 0M39.08 426.62a1.65 1.65 0 1 0 3.3 0a1.65 1.65 0 1 0 -3.3 0M39.44 427.87a1.65 1.65 0 1 0 3.3 0a1.65 1.65 0 1 0 -3.3 0M39.79 429.11a1.65 1.65 0 1 0 3.3 0a1.65 1.65 0 1 0 -3.3 0M40.15 430.62a1.65 1.65 0 1 0 3.3 0a1.65 1.65 0 1 0 -3.3 0M40.51 432.82a1.65 1.65 0 1 0 3.3 0a1.65 1.65 0 1 0 -3.3 0M40.87 435.02a1.65 1.65 0 1 0 3.3 0a1.65 1.65 0 1 0 -3.3 0M41.22 437.22a1.65 1.65 0 1 0 3.3 0a1.65 1.65 0 1 0 -3.3 0M41.58 439.67a1.65 1.65 0 1 0 3.3 0a1.65 1.65 0 1 0 -3.3 0M41.94 442.27a1.65 1.65 0 1 0 3.3 0a1.65 1.65 0 1 0 -3.3 0M42.29 444.87a1.65 1.65 0 1 0 3.3 0a1.65 1.65 0 1 0 -3.3 0M42.65 446.85a1.65 1.65 0 1 0 3.3 0a1.65 1.65 0 1 0 -3.3 0M43.01 448.35a1.65 1.65 0 1 0 3.3 0a1.65 1.65 0 1 0 -3.3 0M43.37 449.86a1.65 1.65 0 1 0 3.3 0a1.65 1.65 0 1 0 -3.3 0M43.72 451.36a1.65 1.65 0 1 0 3.3 0a1.65 1.65 0 1 0 -3.3 0M44.08 452.86a1.65 1.65 0 1 0 3.3 0a1.65 1.65 0 1 0 -3.3 0M44.44 454.18a1.65 1.65 0 1 0 3.3 0a1.65 1.65 0 1 0 -3.3 0M44.79 454.89a1.65 1.65 0 1 0 3.3 0a1.65 1.65 0 1 0 -3.3 0M45.15 455.6a1.65 1.65 0 1 0 3.3 0a1.65 1.65 0 1 0 -3.3 0M45.51 456.32a1.65 1.65 0 1 0 3.3 0a1.65 1.65 0 1 0 -3.3 0M45.87 457.03a1.65 1.65 0 1 0 3.3 0a1.65 1.65 0 1 0 -3.3 0M46.22 457.75a1.65 1.65 0 1 0 3.3 0a1.65 1.65 0 1 0 -3.3 0M46.58 458.46a1.65 1.65 0 1 0 3.3 0a1.65 1.65 0 1 0 -3.3 0M46.94 459.11a1.65 1.65 0 1 0 3.3 0a1.65 1.65 0 1 0 -3.3 0M47.3 459.53a1.65 1.65 0 1 0 3.3 0a1.65 1.65 0 1 0 -3.3 0M47.65 459.96a1.65 1.65 0 1 0 3.3 0a1.65 1.65 0 1 0 -3.3 0M48.01 460.39a1.65 1.65 0 1 0 3.3 0a1.65 1.65 0 1 0 -3.3 0M48.37 460.82a1.65 1.65 0 1 0 3.3 0a1.65 1.65 0 1 0 -3.3 0M48.72 461.25a1.65 1.65 0 1 0 3.3 0a1.65 1.65 0 1 0 -3.3 0M49.08 461.68a1.65 1.65 0 1 0 3.3 0a1.65 1.65 0 1 0 -3.3 0M49.44 462.16a1.65 1.65 0 1 0 3.3 0a1.65 1.65 0 1 0 -3.3 0M49.8 462.79a1.65 1.65 0 1 0 3.3 0a1.65 1.65 0 1 0 -3.3 0M50.15 463.43a1.65 1.65 0 1 0 3.3 0a1.65 1.65 0 1 0 -3.3 0M50.51 464.06a1.65 1.65 0 1 0 3.3 0a1.65 1.65 0 1 0 -3.3 0M50.87 464.7a1.65 1.65 0 1 0 3.3 0a1.65 1.65 0 1 0 -3.3 0M51.22 465.33a1.65 1.65 0 1 0 3.3 0a1.65 1.65 0 1 0 -3.3 0M51.58 465.97a1.65 1.65 0 1 0 3.3 0a1.65 1.65 0 1 0 -3.3 0M51.94 466.6a1.65 1.65 0 1 0 3.3 0a1.65 1.65 0 1 0 -3.3 0M52.3 467.24a1.65 1.65 0 1 0 3.3 0a1.65 1.65 0 1 0 -3.3 0M52.65 467.87a1.65 1.65 0 1 0 3.3 0a1.65 1.65 0 1 0 -3.3 0M53.01 468.51a1.65 1.65 0 1 0 3.3 0a1.65 1.65 0 1 0 -3.3 0M53.37 469.14a1.65 1.65 0 1 0 3.3 0a1.65 1.65 0 1 0 -3.3 0M53.72 469.78a1.65 1.65 0 1 0 3.3 0a1.65 1.65 0 1 0 -3.3 0M54.08 470.4a1.65 1.65 0 1 0 3.3 0a1.65 1.65 0 1 0 -3.3 0M54.44 471.01a1.65 1.65 0 1 0 3.3 0a1.65 1.65 0 1 0 -3.3 0M54.8 471.63a1.65 1.65 0 1 0 3.3 0a1.65 1.65 0 1 0 -3.3 0M55.15 472.24a1.65 1.65 0 1 0 3.3 0a1.65 1.65 0 1 0 -3.3 0M55.51 472.86a1.65 1.65 0 1 0 3.3 0a1.65 1.65 0 1 0 -3.3 0M55.87 473.47a1.65 1.65 0 1 0 3.3 0a1.65 1.65 0 1 0 -3.3 0M56.23 474.09a1.65 1.65 0 1 0 3.3 0a1.65 1.65 0 1 0 -3.3 0M56.58 474.45a1.65 1.65 0 1 0 3.3 0a1.65 1.65 0 1 0 -3.3 0M56.94 474.69a1.65 1.65 0 1 0 3.3 0a1.65 1.65 0 1 0 -3.3 0M57.3 474.93a1.65 1.65 0 1 0 3.3 0a1.65 1.65 0 1 0 -3.3 0M57.65 475.17a1.65 1.65 0 1 0 3.3 0a1.65 1.65 0 1 0 -3.3 0M58.01 475.41a1.65 1.65 0 1 0 3.3 0a1.65 1.65 0 1 0 -3.3 0M58.37 475.65a1.65 1.65 0 1 0 3.3 0a1.65 1.65 0 1 0 -3.3 0M58.73 475.88a1.65 1.65 0 1 0 3.3 0a1.65 1.65 0 1 0 -3.3 0M59.08 476.12a1.65 1.65 0 1 0 3.3 0a1.65 1.65 0 1 0 -3.3 0M59.44 476.3a1.65 1.65 0 1 0 3.3 0a1.65 1.65 0 1 0 -3.3 0" fill="none" stroke="#000000" stroke-width="1.25"/>
<polyline points="61.09,476.3 65,476.5 200,476.8 253,476.9 254.5,478.1 390.7,478.3" fill="none" stroke="#000000" stroke-width="4" stroke-linejoin="round" stroke-linecap="round"/>
<polyline points="34.3,407.8 34.66,407.8 35.01,407.8 35.37,407.8 35.73,407.8 36.09,407.8 36.44,407.8 36.8,407.8 37.16,407.8 37.51,407.8 37.87,407.8 38.23,407.8 38.59,407.8 38.94,407.8 39.3,407.8 39.66,407.8 40.02,407.83 40.37,408.48 40.73,409.14 41.09,409.79 41.44,410.89 41.8,412.19 42.16,413.49 42.52,415.01 42.87,416.7 43.23,418.38 43.59,420.06 43.94,421.74 44.3,423.21 44.66,424.64 45.02,426.06 45.37,427.49 45.73,428.92 46.09,430.7 46.44,433.56 46.8,436.42 47.16,439.06 47.52,441.44 47.87,443.82 48.23,446.09 48.59,447.19 48.95,448.29 49.3,449.39 49.66,450.49 50.02,451.59 50.37,452.69 50.73,453.79 51.09,454.64 51.45,455.43 51.8,456.23 52.16,457.02 52.52,457.82 52.87,458.61 53.23,459.4 53.59,460.14 53.95,460.71 54.3,461.29 54.66,461.86 55.02,462.43 55.37,463 55.73,463.57 56.09,464.07 56.45,464.37 56.8,464.68 57.16,464.98 57.52,465.28 57.88,465.58 58.23,465.88 58.59,466.11 58.95,466.14 59.3,466.17 59.66,466.2 60.02,466.23 60.38,466.26 60.73,466.29 61.09,466.32" fill="none" stroke="#ff0000" stroke-width="0.5"/>
<path d="M32.65 407.8a1.65 1.65 0 1 0 3.3 0a1.65 1.65 0 1 0 -3.3 0M33.01 407.8a1.65 1.65 0 1 0 3.3 0a1.65 1.65 0 1 0 -3.3 0M33.36 407.8a1.65 1.65 0 1 0 3.3 0a1.65 1.65 0 1 0 -3.3 0M33.72 407.8a1.65 1.65 0 1 0 3.3 0a1.65 1.65 0 1 0 -3.3 0M34.08 407.8a1.65 1.65 0 1 0 3.3 0a1.65 1.65 0 1 0 -3.3 0M34.44 407.8a1.65 1.65 0 1 0 3.3 0a1.65 1.65 0 1 0 -3.3 0M34.79 407.8a1.65 1.65 0 1 0 3.3 0a1.65 1.65 0 1 0 -3.3 0M35.15 407.8a1.65 1.65 0 1 0 3.3 0a1.65 1.65 0 1 0 -3.3 0M35.51 407.8a1.65 1.65 0 1 0 3.3 0a1.65 1.65 0 1 0 -3.3 0M35.86 407.8a1.65 1.65 0 1 0 3.3 0a1.65 1.65 0 1 0 -3.3 0M36.22 407.8a1.65 1.65 0 1 0 3.3 0a1.65 1.65 0 1 0 -3.3 0M36.58 407.8a1.65 1.65 0 1 0 3.3 0a1.65 1.65 0 1 0 -3.3 0M36.94 407.8a1.65 1.65 0 1 0 3.3 0a1.65 1.65 0 1 0 -3.3 0M37.29 407.8a1.65 1.65 0 1 0 3.3 0a1.65 1.65 0 1 0 -3.3 0M37.65 407.8a1.65 1.65 0 1 0 3.3 0a1.65 1.65 0 1 0 -3.3 0M38.01 407.8a1.65 1.65 0 1 0 3.3 0a1.65 1.65 0 1 0 -3.3 0M38.37 407.83a1.65 1.65 0 1 0 3.3 0a1.65 1.65 0 1 0 -3.3 0M38.72 408.48a1.65 1.65 0 1 0 3.3 0a1.65 1.65 0 1 0 -3.3 0M39.08 409.14a1.65 1.65 0 1 0 3.3 0a1.65 1.65 0 1 0 -3.3 0M39.44 409.79a1.65 1.65 0 1 0 3.3 0a1.65 1.65 0 1 0 -3.3 0M39.79 410.89a1.65 1.65 0 1 0 3.3 0a1.65 1.65 0 1 0 -3.3 0M40.15 412.19a1.65 1.65 0 1 0 3.3 0a1.65 1.65 0 1 0 -3.3 0M40.51 413.49a1.65 1.65 0 1 0 3.3 0a1.65 1.65 0 1 0 -3.3 0M40.87 415.01a1.65 1.65 0 1 0 3.3 0a1.65 1.65 0 1 0 -3.3 0M41.22 416.7a1.65 1.65 0 1 0 3.3 0a1.65 1.65 0 1 0 -3.3 0M41.58 418.38a1.65 1.65 0 1 0 3.3 0a1.65 1.65 0 1 0 -3.3 0M41.94 420.06a1.65 1.65 0 1 0 3.3 0a1.65 1.65 0 1 0 -3.3 0M42.29 421.74a1.65 1.65 0 1 0 3.3 0a1.65 1.65 0 1 0 -3.3 0M42.65 423.21a1.65 1.65 0 1 0 3.3 0a1.65 1.65 0 1 0 -3.3 0M43.01 424.64a1.65 1.65 0 1 0 3.3 0a1.65 1.65 0 1 0 -3.3 0M43.37 426.06a1.65 1.65 0 1 0 3.3 0a1.65 1.65 0 1 0 -3.3 0M43.72 427.49a1.65 1.65 0 1 0 3.3 0a1.65 1.65 0 1 0 -3.3 0M44.08 428.92a1.65 1.65 0 1 0 3.3 0a1.65 1.65 0 1 0 -3.3 0M44.44 430.7a1.65 1.65 0 1 0 3.3 0a1.65 1.65 0 1 0 -3.3 0M44.79 433.56a1.65 1.65 0 1 0 3.3 0a1.65 1.65 0 1 0 -3.3 0M45.15 436.42a1.65 1.65 0 1 0 3.3 0a1.65 1.65 0 1 0 -3.3 0M45.51 439.06a1.65 1.65 0 1 0 3.3 0a1.65 1.65 0 1 0 -3.3 0M45.87 441.44a1.65 1.65 0 1 0 3.3 0a1.65 1.65 0 1 0 -3.3 0M46.22 443.82a1.65 1.65 0 1 0 3.3 0a1.65 1.65 0 1 0 -3.3 0M46.58 446.09a1.65 1.65 0 1 0 3.3 0a1.65 1.65 0 1 0 -3.3 0M46.94 447.19a1.65 1.65 0 1 0 3.3 0a1.65 1.65 0 1 0 -3.3 0M47.3 448.29a1.65 1.65 0 1 0 3.3 0a1.65 1.65 0 1 0 -3.3 0M47.65 449.39a1.65 1.65 0 1 0 3.3 0a1.65 1.65 0 1 0 -3.3 0M48.01 450.49a1.65 1.65 0 1 0 3.3 0a1.65 1.65 0 1 0 -3.3 0M48.37 451.59a1.65 1.65 0 1 0 3.3 0a1.65 1.65 0 1 0 -3.3 0M48.72 452.69a1.65 1.65 0 1 0 3.3 0a1.65 1.65 0 1 0 -3.3 0M49.08 453.79a1.65 1.65 0 1 0 3.3 0a1.65 1.65 0 1 0 -3.3 0M49.44 454.64a1.65 1.65 0 1 0 3.3 0a1.65 1.65 0 1 0 -3.3 0M49.8 455.43a1.65 1.65 0 1 0 3.3 0a1.65 1.65 0 1 0 -3.3 0M50.15 456.23a1.65 1.65 0 1 0 3.3 0a1.65 1.65 0 1 0 -3.3 0M50.51 457.02a1.65 1.65 0 1 0 3.3 0a1.65 1.65 0 1 0 -3.3 0M50.87 457.82a1.65 1.65 0 1 0 3.3 0a1.65 1.65 0 1 0 -3.3 0M51.22 458.61a1.65 1.65 0 1 0 3.3 0a1.65 1.65 0 1 0 -3.3 0M51.58 459.4a1.65 1.65 0 1 0 3.3 0a1.65 1.65 0 1 0 -3.3 0M51.94 460.14a1.65 1.65 0 1 0 3.3 0a1.65 1.65 0 1 0 -3.3 0M52.3 460.71a1.65 1.65 0 1 0 3.3 0a1.65 1.65 0 1 0 -3.3 0M52.65 461.29a1.65 1.65 0 1 0 3.3 0a1.65 1.65 0 1 0 -3.3 0M53.01 461.86a1.65 1.65 0 1 0 3.3 0a1.65 1.65 0 1 0 -3.3 0M53.37 462.43a1.65 1.65 0 1 0 3.3 0a1.65 1.65 0 1 0 -3.3 0M53.72 463a1.65 1.65 0 1 0 3.3 0a1.65 1.65 0 1 0 -3.3 0M54.08 463.57a1.65 1.65 0 1 0 3.3 0a1.65 1.65 0 1 0 -3.3 0M54.44 464.07a1.65 1.65 0 1 0 3.3 0a1.65 1.65 0 1 0 -3.3 0M54.8 464.37a1.65 1.65 0 1 0 3.3 0a1.65 1.65 0 1 0 -3.3 0M55.15 464.68a1.65 1.65 0 1 0 3.3 0a1.65 1.65 0 1 0 -3.3 0M55.51 464.98a1.65 1.65 0 1 0 3.3 0a1.65 1.65 0 1 0 -3.3 0M55.87 465.28a1.65 1.65 0 1 0 3.3 0a1.65 1.65 0 1 0 -3.3 0M56.23 465.58a1.65 1.65 0 1 0 3.3 0a1.65 1.65 0 1 0 -3.3 0M56.58 465.88a1.65 1.65 0 1 0 3.3 0a1.65 1.65 0 1 0 -3.3 0M56.94 466.11a1.65 1.65 0 1 0 3.3 0a1.65 1.65 0 1 0 -3.3 0M57.3 466.14a1.65 1.65 0 1 0 3.3 0a1.65 1.65 0 1 0 -3.3 0M57.65 466.17a1.65 1.65 0 1 0 3.3 0a1.65 1.65 0 1 0 -3.3 0M58.01 466.2a1.65 1.65 0 1 0 3.3 0a1.65 1.65 0 1 0 -3.3 0M58.37 466.23a1.65 1.65 0 1 0 3.3 0a1.65 1.65 0 1 0 -3.3 0M58.73 466.26a1.65 1.65 0 1 0 3.3 0a1.65 1.65 0 1 0 -3.3 0M59.08 466.29a1.65 1.65 0 1 0 3.3 0a1.65 1.65 0 1 0 -3.3 0M59.44 466.32a1.65 1.65 0 1 0 3.3 0a1.65 1.65 0 1 0 -3.3 0" fill="none" stroke="#ff0000" stroke-width="1.25"/>
<polyline points="61.09,466.32 62,466.4 150,466.8 390.7,467.2" fill="none" stroke="#ff0000" stroke-width="4" stroke-linejoin="round" stroke-linecap="round"/>
<g font-family="Liberation Sans, Arial, sans-serif" font-size="10" fill="#262626" stroke="#262626" stroke-width="0.22">
<text x="34.3" y="515.1" text-anchor="middle">0</text>
<text x="70.02" y="515.1" text-anchor="middle">100</text>
<text x="105.74" y="515.1" text-anchor="middle">200</text>
<text x="141.46" y="515.1" text-anchor="middle">300</text>
<text x="177.18" y="515.1" text-anchor="middle">400</text>
<text x="212.9" y="515.1" text-anchor="middle">500</text>
<text x="248.62" y="515.1" text-anchor="middle">600</text>
<text x="284.34" y="515.1" text-anchor="middle">700</text>
<text x="320.06" y="515.1" text-anchor="middle">800</text>
<text x="355.78" y="515.1" text-anchor="middle">900</text>
<text x="391.5" y="515.1" text-anchor="middle">1000</text>
<text x="30.4" y="505.9" text-anchor="end">0</text>
<text x="30.4" y="460.83" text-anchor="end">0.5</text>
<text x="30.4" y="415.76" text-anchor="end">1</text>
<text x="30.4" y="370.7" text-anchor="end">1.5</text>
<text x="30.4" y="325.63" text-anchor="end">2</text>
<text x="213.1" y="527.3" text-anchor="middle" font-size="10.2">Iteration</text>
<text transform="translate(10.9 402.8) rotate(-90)" text-anchor="middle" font-size="10.1" textLength="75.2" lengthAdjust="spacingAndGlyphs">Objective function</text>
<text x="34.8" y="301" font-size="13.4" stroke="none">&#215;</text>
<text x="43" y="300.6" font-size="10.8">10</text>
<text x="54.3" y="295.9" font-size="8.4">4</text>
</g>
<rect x="262.45" y="310.3" width="120.65" height="90.1" fill="#fff" stroke="#9e9e9e" stroke-width="1.25"/>
<path d="M264.2 316.7H288.5" stroke="#ffff00" stroke-width="1.1" stroke-dasharray="5 2.6" fill="none"/>
<circle cx="276.7" cy="316.7" r="1.35" fill="#fff" stroke="#ffff00" stroke-width="1.3"/>
<path d="M264.2 327.79H288.5" stroke="#ff00ff" stroke-width="1.1" stroke-dasharray="5 2.6" fill="none"/>
<circle cx="276.7" cy="327.79" r="1.35" fill="#fff" stroke="#ff00ff" stroke-width="1.3"/>
<path d="M264.2 338.88H288.5" stroke="#00ffff" stroke-width="1.1" stroke-dasharray="5 2.6" fill="none"/>
<circle cx="276.7" cy="338.88" r="1.35" fill="#fff" stroke="#00ffff" stroke-width="1.3"/>
<path d="M264.2 349.97H288.5" stroke="#00ff00" stroke-width="1.1" stroke-dasharray="5 2.6" fill="none"/>
<circle cx="276.7" cy="349.97" r="1.35" fill="#fff" stroke="#00ff00" stroke-width="1.3"/>
<path d="M264.2 361.06H288.5" stroke="#0000ff" stroke-width="1.1" stroke-dasharray="5 2.6" fill="none"/>
<circle cx="276.7" cy="361.06" r="1.35" fill="#fff" stroke="#0000ff" stroke-width="1.3"/>
<path d="M264.2 372.15H288.5" stroke="#808080" stroke-width="1.1" stroke-dasharray="5 2.6" fill="none"/>
<circle cx="276.7" cy="372.15" r="1.35" fill="#fff" stroke="#808080" stroke-width="1.3"/>
<path d="M264.2 383.24H288.5" stroke="#000000" stroke-width="1.1" stroke-dasharray="5 2.6" fill="none"/>
<circle cx="276.7" cy="383.24" r="1.35" fill="#fff" stroke="#000000" stroke-width="1.3"/>
<path d="M264.2 394.33H288.5" stroke="#ff0000" stroke-width="1.1" stroke-dasharray="5 2.6" fill="none"/>
<circle cx="276.7" cy="394.33" r="1.35" fill="#fff" stroke="#ff0000" stroke-width="1.3"/>
<g font-family="Liberation Sans, Arial, sans-serif" font-size="9.4" fill="#111" stroke="#111" stroke-width="0.2">
<text x="290.7" y="320" textLength="84.3" lengthAdjust="spacingAndGlyphs">Population size = 10</text>
<text x="290.7" y="331.09" textLength="84.3" lengthAdjust="spacingAndGlyphs">Population size = 25</text>
<text x="290.7" y="342.18" textLength="84.3" lengthAdjust="spacingAndGlyphs">Population size = 50</text>
<text x="290.7" y="353.27" textLength="89.7" lengthAdjust="spacingAndGlyphs">Population size = 100</text>
<text x="290.7" y="364.36" textLength="89.7" lengthAdjust="spacingAndGlyphs">Population size = 200</text>
<text x="290.7" y="375.45" textLength="89.7" lengthAdjust="spacingAndGlyphs">Population size = 300</text>
<text x="290.7" y="386.54" textLength="89.7" lengthAdjust="spacingAndGlyphs">Population size = 400</text>
<text x="290.7" y="397.63" textLength="89.7" lengthAdjust="spacingAndGlyphs">Population size = 500</text>
</g>
<text x="171.7" y="546.2" textLength="60.3" lengthAdjust="spacingAndGlyphs" font-family="Liberation Serif, serif" font-size="11" fill="#111">(<tspan font-weight="bold">c</tspan>) SSD-ANN</text>
</svg></body></html>
